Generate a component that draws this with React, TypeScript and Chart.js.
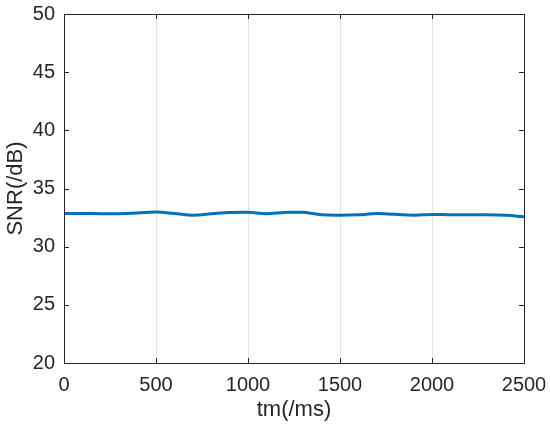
import React, { useEffect, useRef } from "react";
import { Chart, registerables } from "chart.js";

Chart.register(...registerables);

const timeMs = [0, 100, 200, 300, 400, 500, 600, 700, 800, 900, 1000, 1100, 1200, 1300, 1400, 1500, 1600, 1700, 1800, 1900, 2000, 2100, 2200, 2300, 2400, 2500];
const snrDb = [32.85, 32.86, 32.84, 32.84, 32.9, 32.97, 32.85, 32.7, 32.82, 32.94, 32.96, 32.84, 32.94, 32.95, 32.74, 32.7, 32.74, 32.85, 32.78, 32.7, 32.77, 32.74, 32.74, 32.75, 32.7, 32.57];
const xTicks = [0, 500, 1000, 1500, 2000, 2500];
const yTicks = [20, 25, 30, 35, 40, 45, 50];

const AXIS_COLOR = "#262626";
const FONT = "'Liberation Sans', Arial, sans-serif";

const framePlugin = {
  id: "matlabFrame",
  afterDraw(chart: any) {
    const { ctx, chartArea } = chart;
    const { left, right, top, bottom } = chartArea;
    const xs = chart.scales.x;
    const ys = chart.scales.y;
    const tl = 5;
    ctx.save();
    ctx.strokeStyle = AXIS_COLOR;
    ctx.lineWidth = 1;
    ctx.beginPath();
    xTicks.forEach((v) => {
      const px = Math.round(xs.getPixelForValue(v)) + 0.5;
      ctx.moveTo(px, bottom);
      ctx.lineTo(px, bottom - tl);
      ctx.moveTo(px, top);
      ctx.lineTo(px, top + tl);
    });
    yTicks.forEach((v) => {
      const py = Math.round(ys.getPixelForValue(v)) + 0.5;
      ctx.moveTo(left, py);
      ctx.lineTo(left + tl, py);
      ctx.moveTo(right, py);
      ctx.lineTo(right - tl, py);
    });
    ctx.stroke();
    ctx.strokeRect(Math.round(left) + 0.5, Math.round(top) + 0.5, Math.round(right - left), Math.round(bottom - top));
    ctx.restore();
  },
};

export default function App() {
  const ref = useRef<HTMLCanvasElement | null>(null);

  useEffect(() => {
    if (!ref.current) return;
    const chart = new Chart(ref.current, {
      type: "line",
      data: {
        datasets: [
          {
            data: timeMs.map((t, i) => ({ x: t, y: snrDb[i] })),
            borderColor: "#0072BD",
            borderWidth: 3,
            pointRadius: 0,
            tension: 0.4,
            fill: false,
          },
        ],
      },
      options: {
        animation: false,
        responsive: false,
        devicePixelRatio: 1,
        layout: { padding: { left: 0, top: 14, right: 26, bottom: 0 } },
        plugins: { legend: { display: false }, tooltip: { enabled: false } },
        scales: {
          x: {
            type: "linear",
            min: 0,
            max: 2500,
            afterBuildTicks: (s: any) => {
              s.ticks = xTicks.map((v) => ({ value: v }));
            },
            afterFit: (s: any) => {
              s.height = 69;
              s.paddingRight = 0;
              s.paddingLeft = 0;
            },
            ticks: {
              color: AXIS_COLOR,
              font: { family: FONT, size: 20 },
              padding: 10,
              maxRotation: 0,
              callback: (v: any) => String(v),
            },
            grid: { color: "#e3e3e3", drawTicks: false, lineWidth: 1 },
            border: { display: false },
            title: {
              display: true,
              text: "tm(/ms)",
              color: AXIS_COLOR,
              font: { family: FONT, size: 22 },
              padding: { top: 0, bottom: 9 },
            },
          },
          y: {
            type: "linear",
            min: 20,
            max: 50,
            afterBuildTicks: (s: any) => {
              s.ticks = yTicks.map((v) => ({ value: v }));
            },
            afterFit: (s: any) => {
              s.width = 64;
              s.paddingTop = 0;
              s.paddingBottom = 0;
            },
            ticks: {
              color: AXIS_COLOR,
              font: { family: FONT, size: 20 },
              padding: 9,
              callback: (v: any) => String(v),
            },
            grid: { display: false, drawTicks: false },
            border: { display: false },
            title: {
              display: true,
              text: "SNR(/dB)",
              color: AXIS_COLOR,
              font: { family: FONT, size: 22 },
              padding: { top: 3, bottom: 0 },
            },
          },
        },
      },
      plugins: [framePlugin],
    });
    return () => chart.destroy();
  }, []);

  return (
    <div style={{ position: "absolute", left: 0, top: 0, width: 550, height: 432, background: "#fff" }}>
      <canvas ref={ref} width={550} height={432} />
    </div>
  );
}
